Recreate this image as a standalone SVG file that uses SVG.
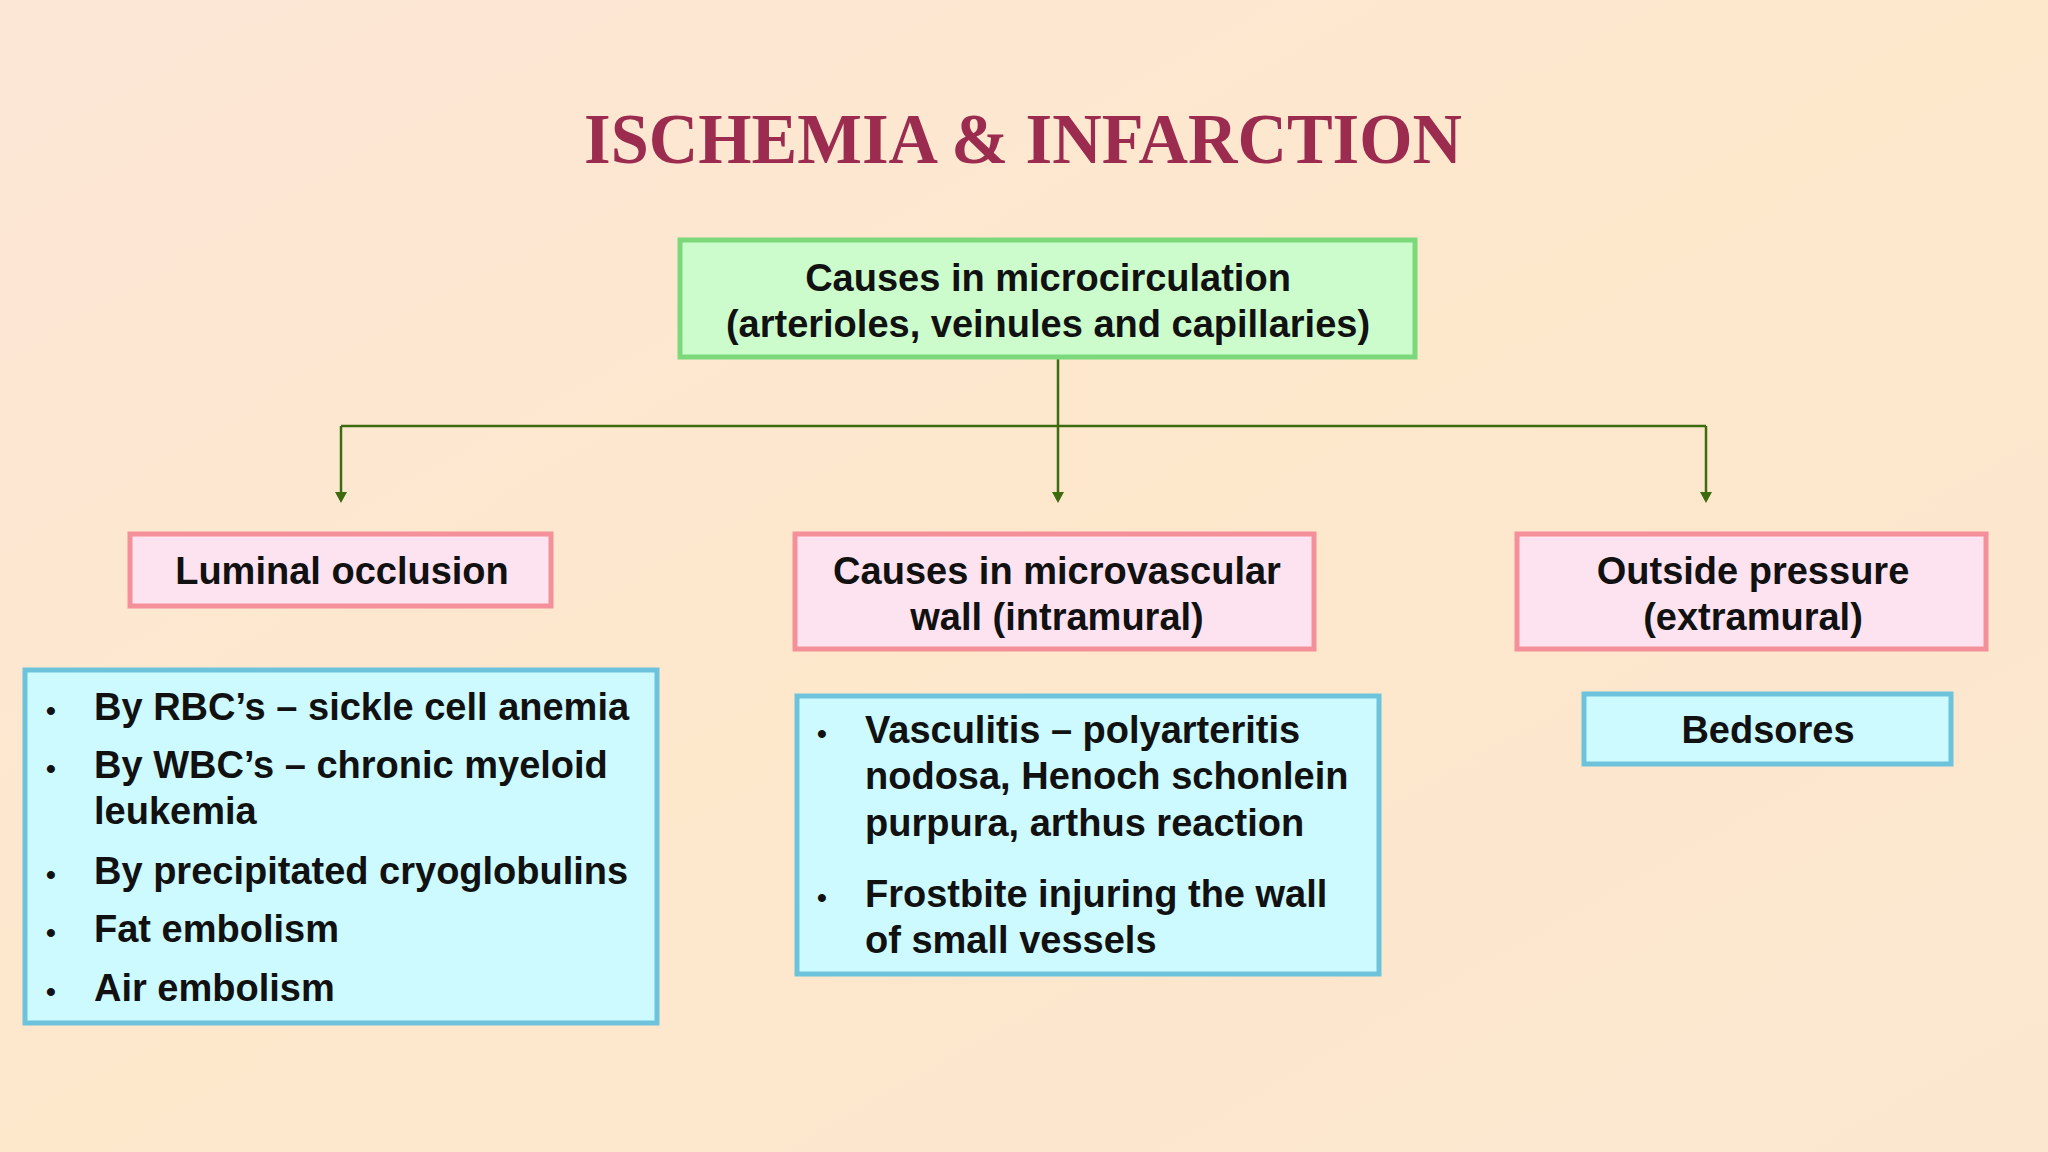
<svg xmlns="http://www.w3.org/2000/svg" width="2048" height="1152" viewBox="0 0 2048 1152">
<defs>
<linearGradient id="bg" x1="0" y1="0" x2="1" y2="1">
<stop offset="0" stop-color="#fce6d6"/><stop offset="0.5" stop-color="#fde8cc"/><stop offset="1" stop-color="#fbe6d0"/>
</linearGradient>
</defs>
<style>
text{font-family:"Liberation Sans",Arial,sans-serif;font-weight:bold;font-size:38px;fill:#111}
.c{text-anchor:middle}
.bu{font-size:28px}
.g{fill:#ccfccc;stroke:#7bd87b;stroke-width:5}
.p{fill:#fde3f0;stroke:#f4909a;stroke-width:5}
.b{fill:#ccfaff;stroke:#6ec3dc;stroke-width:5}
.ln{stroke:#3d6b10;stroke-width:2.5;fill:none}
</style>
<rect width="2048" height="1152" fill="url(#bg)"/>
<text x="1023" y="163" class="c" style="font-family:'Liberation Serif',serif;font-size:72px;fill:#9b2c50" textLength="878" lengthAdjust="spacingAndGlyphs">ISCHEMIA &amp; INFARCTION</text>
<g id="connectors">
<path class="ln" d="M1058,358 V500"/>
<path class="ln" d="M341,426 H1706"/>
<path class="ln" d="M341,426 V500"/>
<path class="ln" d="M1706,426 V500"/>
<path d="M335,492 L347,492 L341,503 Z M1052,492 L1064,492 L1058,503 Z M1700,492 L1712,492 L1706,503 Z" fill="#3d6b10"/>
</g>
<g id="root"><rect class="g" x="680" y="240" width="735" height="117"/>
<text x="1048" y="291" class="c">Causes in microcirculation</text>
<text x="1048" y="337" class="c">(arterioles, veinules and capillaries)</text></g>
<g id="luminal"><rect class="p" x="130" y="534" width="421" height="72"/>
<text x="342" y="584" class="c">Luminal occlusion</text></g>
<g id="wall"><rect class="p" x="795" y="534" width="519" height="115"/>
<text x="1057" y="584" class="c">Causes in microvascular</text>
<text x="1057" y="630" class="c">wall (intramural)</text></g>
<g id="outside"><rect class="p" x="1517" y="534" width="469" height="115"/>
<text x="1753" y="584" class="c">Outside pressure</text>
<text x="1753" y="630" class="c">(extramural)</text></g>
<g id="luminal-list"><rect class="b" x="25" y="670" width="632" height="353"/>
<text x="46" y="720" class="bu">•</text><text x="94" y="720">By RBC’s – sickle cell anemia</text>
<text x="46" y="778" class="bu">•</text><text x="94" y="778">By WBC’s – chronic myeloid</text>
<text x="94" y="824">leukemia</text>
<text x="46" y="884" class="bu">•</text><text x="94" y="884">By precipitated cryoglobulins</text>
<text x="46" y="942" class="bu">•</text><text x="94" y="942">Fat embolism</text>
<text x="46" y="1001" class="bu">•</text><text x="94" y="1001">Air embolism</text></g>
<g id="wall-list"><rect class="b" x="797" y="696" width="582" height="278"/>
<text x="817" y="743" class="bu">•</text><text x="865" y="743">Vasculitis – polyarteritis</text>
<text x="865" y="789">nodosa, Henoch schonlein</text>
<text x="865" y="836">purpura, arthus reaction</text>
<text x="817" y="907" class="bu">•</text><text x="865" y="907">Frostbite injuring the wall</text>
<text x="865" y="953">of small vessels</text></g>
<g id="bedsores"><rect class="b" x="1584" y="694" width="367" height="70"/>
<text x="1768" y="743" class="c">Bedsores</text></g>
</svg>
